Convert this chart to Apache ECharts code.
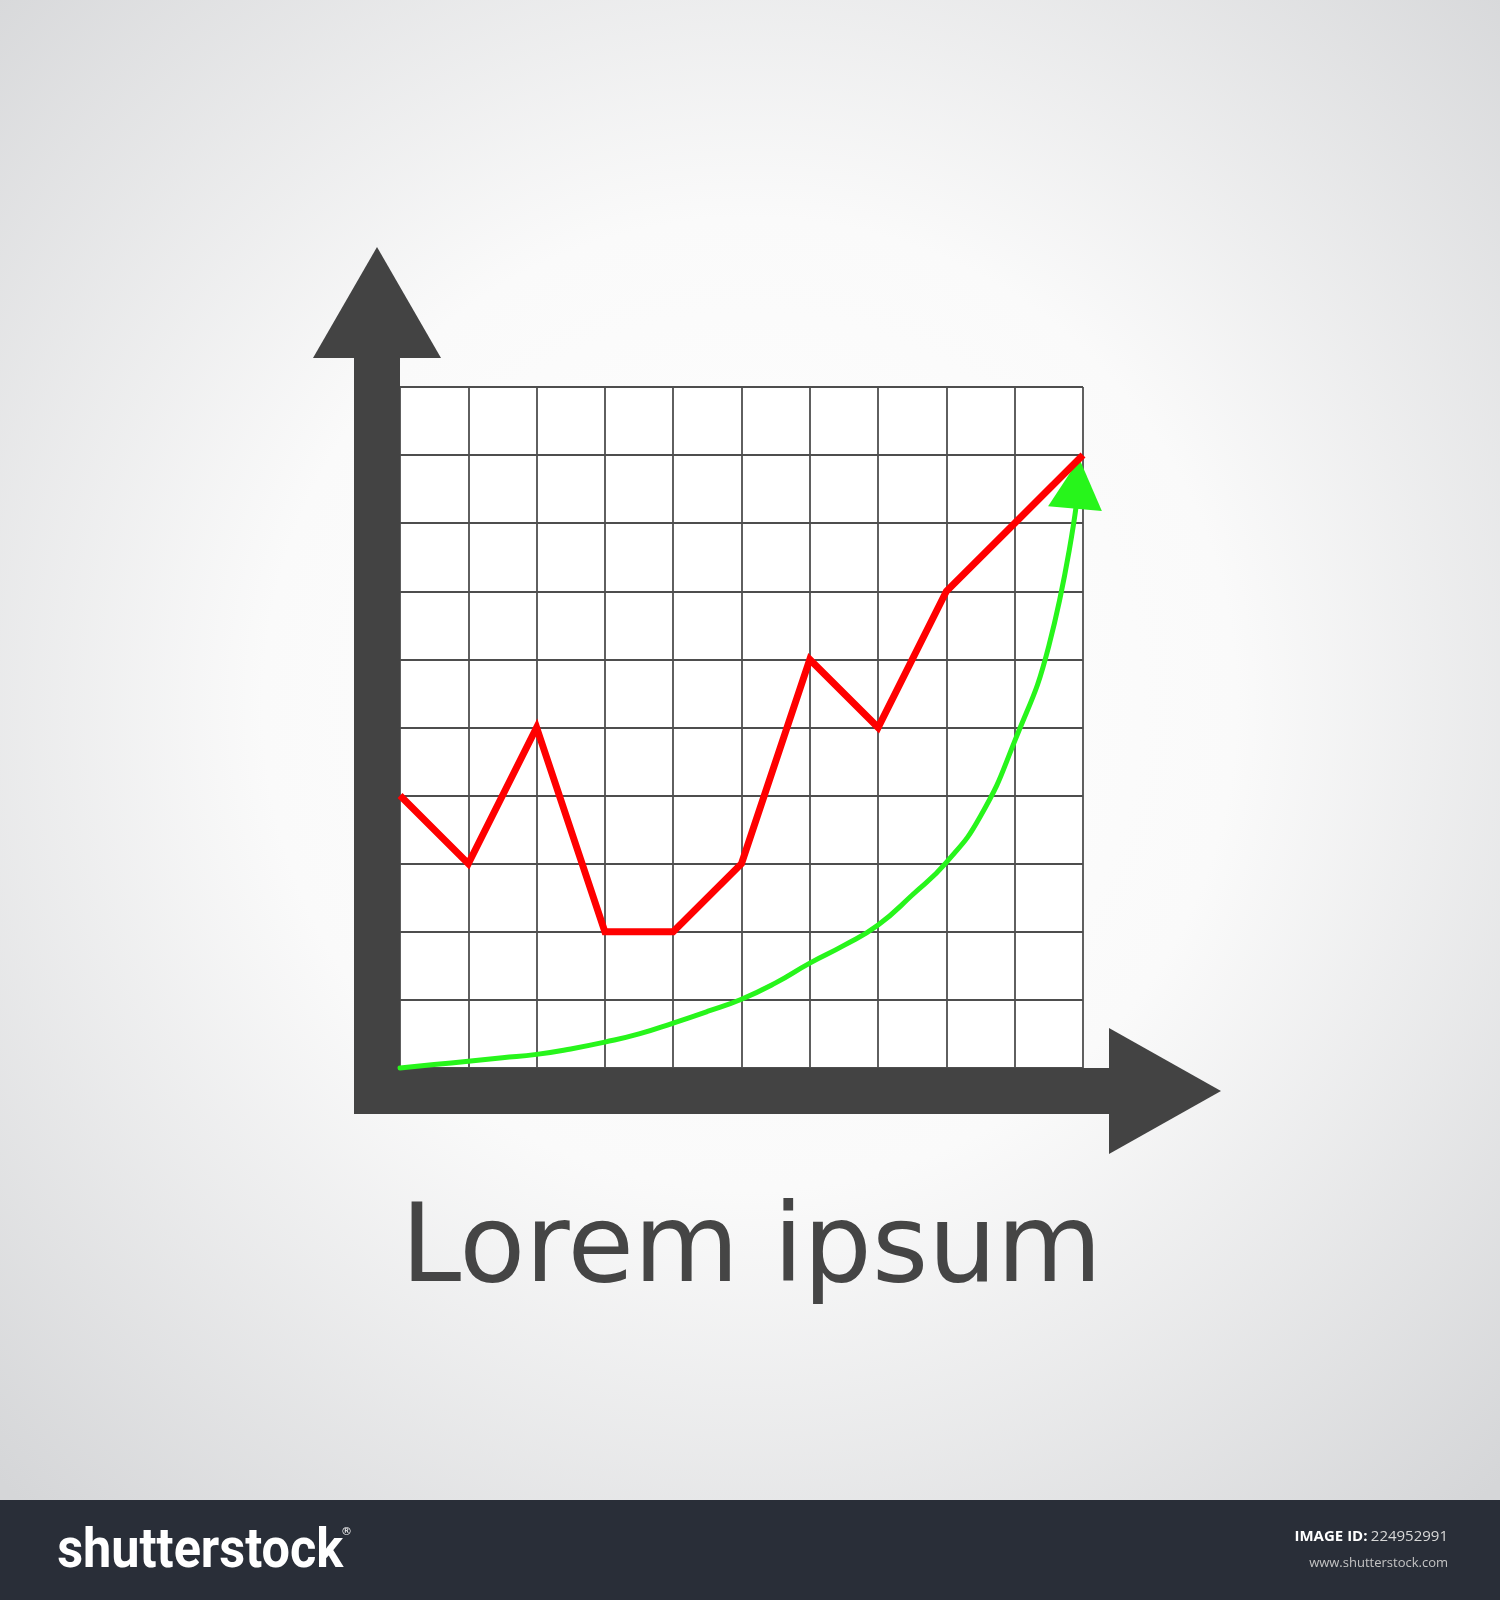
<!DOCTYPE html>
<html>
<head>
<meta charset="utf-8">
<script src="https://cdn.jsdelivr.net/npm/echarts@6/dist/echarts.min.js"></script>
<style>
html,body{margin:0;padding:0;background:#fff;}
#chart{width:1500px;height:1600px;}
</style>
</head>
<body>
<div id="chart"></div>
<script>
// ---- data ----
const gridTicks = [0,1,2,3,4,5,6,7,8,9,10];
const redX = [0,1,2,3,4,5,6,7,8,9,10];
const redY = [4,3,5,2,2,3,6,5,7,8,9];
const greenX = [0,0.5,1,1.5,2,2.5,3,3.5,4,4.5,5,5.5,6,6.5,7,7.5,8,8.5,9,9.5,9.9];
const greenY = [0,0.05,0.1,0.15,0.2,0.28,0.38,0.5,0.66,0.83,1.01,1.25,1.54,1.8,2.1,2.54,3.02,3.7,4.8,6.2,8.25];
const titleText = 'Lorem ipsum';
const brandText = 'shutterstock';
const imageIdLabel = 'IMAGE ID:';
const imageIdValue = '224952991';
const siteText = 'www.shutterstock.com';

const chart = echarts.init(document.getElementById('chart'), null, {renderer:'canvas'});

const redData = redX.map((x,i)=>[x, redY[i]]);
const greenData = greenX.map((x,i)=>{
  const last = i === greenX.length-1;
  return last ? {value:[x, greenY[i]], symbol:'triangle', symbolSize:[54,50], symbolRotate:-5, symbolOffset:[1,'-45%'],
                 itemStyle:{color:'#27f51b'}}
              : {value:[x, greenY[i]], symbol:'none'};
});

const axisCommon = {
  type:'value', min:0, max:10, interval:1,
  axisLine:{show:false}, axisTick:{show:false}, axisLabel:{show:false},
  splitLine:{show:true, showMinLine:true, showMaxLine:true, lineStyle:{color:'#4e4e4e', width:1.8}}
};

chart.setOption({
  animation:false,
  backgroundColor:{type:'radial', x:0.5, y:0.44, r:0.72,
    colorStops:[{offset:0,color:'#ffffff'},{offset:0.45,color:'#fafafa'},{offset:1,color:'#d5d6d8'}]},
  grid:{left:400, top:387, width:683, height:681, show:true, backgroundColor:'#ffffff', borderWidth:0},
  xAxis:Object.assign({}, axisCommon),
  yAxis:Object.assign({}, axisCommon),
  series:[
    {type:'line', data:greenData, smooth:0.5, showSymbol:true, clip:false,
     lineStyle:{color:'#27f51b', width:5, cap:'round', join:'round'}, itemStyle:{color:'#27f51b'}, z:3},
    {type:'line', data:redData, symbol:'none', clip:false,
     lineStyle:{color:'#ff0000', width:7, join:'miter'}, z:4}
  ]
});

// decorative axis arrows, placed from the axis scale
const p0 = chart.convertToPixel({gridIndex:0}, [0,0]);
const p1 = chart.convertToPixel({gridIndex:0}, [10,10]);
const T = 46;
const col = '#434343';
const vBaseY = p1[1] - 29;
const hBaseX = p1[0] + 26;
const hMidY = p0[1] + T/2;
chart.setOption({
  graphic:[
    {type:'rect', shape:{x:p0[0]-T, y:vBaseY, width:T, height:p0[1]+T-vBaseY}, style:{fill:col}, z:1},
    {type:'polygon', shape:{points:[[p0[0]-T/2, vBaseY-111],[p0[0]-T/2-64, vBaseY],[p0[0]-T/2+64, vBaseY]]}, style:{fill:col}, z:1},
    {type:'rect', shape:{x:p0[0]-T, y:p0[1], width:hBaseX-(p0[0]-T), height:T}, style:{fill:col}, z:1},
    {type:'polygon', shape:{points:[[hBaseX, hMidY-63],[hBaseX+112, hMidY],[hBaseX, hMidY+63]]}, style:{fill:col}, z:1},
    {type:'text', x:p0[0]+1, y:1253, style:{text:titleText, fill:'#454545', font:'108px "DejaVu Sans"', verticalAlign:'middle', align:'left'}, z:5},
    {type:'rect', shape:{x:0, y:1500, width:1500, height:100}, style:{fill:'#292e38'}, z:5},
    {type:'text', x:52, y:1553, scaleX:0.9, originX:52, style:{text:brandText, fill:'#ffffff', font:'bold 56px Roboto', verticalAlign:'middle', align:'left'}, z:6},
    {type:'text', x:341, y:1532, style:{text:'®', fill:'#ffffff', font:'11px "DejaVu Sans"', verticalAlign:'middle', align:'left'}, z:6},
    {type:'text', x:1448, y:1537, style:{
      text:'{a|' + imageIdLabel + '} {b|' + imageIdValue + '}',
      rich:{a:{fill:'#ffffff', font:'bold 15px "Open Sans"'}, b:{fill:'#d8d8d8', font:'15px "Open Sans"'}},
      verticalAlign:'middle', align:'right'}, z:6},
    {type:'text', x:1448, y:1563, style:{text:siteText, fill:'#c4c4c4', font:'13px "Open Sans"', verticalAlign:'middle', align:'right'}, z:6}
  ]
});
</script>
</body>
</html>
